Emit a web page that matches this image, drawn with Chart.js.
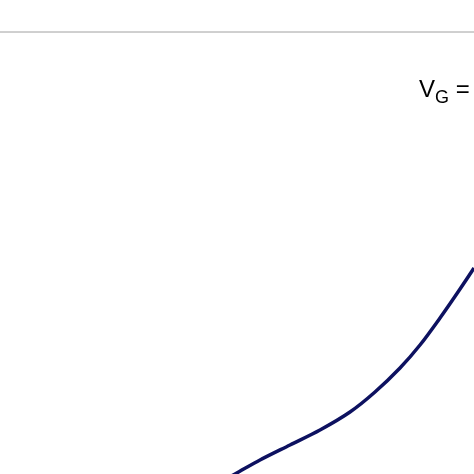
<!DOCTYPE html>
<html><head><meta charset="utf-8">
<script src="https://cdn.jsdelivr.net/npm/chart.js@4"></script>
<style>html,body{margin:0;padding:0;background:#fff}#w{width:474px;height:474px}</style>
</head><body><div id="w"><canvas id="c"></canvas></div>
<script>
const curveX = [220, 235, 260, 290, 320, 350, 375, 400, 420, 440, 458, 474, 482];
const curveY = [482, 474, 460, 445, 430, 412, 392, 368, 345, 318, 292, 268, 255];
const refX = [0, 474];
const refY = [32, 32];
const label = {main: 'V', sub: 'G', tail: ' ='};

const textPlugin = {
  id: 'vg',
  afterDraw(chart) {
    const ctx = chart.ctx;
    const xs = chart.scales.x, ys = chart.scales.y;
    ctx.save();
    ctx.fillStyle = '#000';
    ctx.textBaseline = 'alphabetic';
    let x = xs.getPixelForValue(419), y = ys.getPixelForValue(97);
    ctx.font = '24px "Liberation Sans", Arial, sans-serif';
    ctx.fillText(label.main, x, y);
    x += ctx.measureText(label.main).width;
    ctx.font = '18px "Liberation Sans", Arial, sans-serif';
    ctx.fillText(label.sub, x, y + 6);
    x += ctx.measureText(label.sub).width;
    ctx.font = '24px "Liberation Sans", Arial, sans-serif';
    ctx.fillText(label.tail, x, y);
    ctx.restore();
  }
};

new Chart(document.getElementById('c'), {
  type: 'scatter',
  data: {
    datasets: [
      {data: refX.map((v, i) => ({x: v, y: refY[i]})), showLine: true, borderColor: '#a0a0a0', borderWidth: 1, pointRadius: 0},
      {data: curveX.map((v, i) => ({x: v, y: curveY[i]})), showLine: true, borderColor: '#0d1160', borderWidth: 3.5, pointRadius: 0, tension: 0.3}
    ]
  },
  options: {
    responsive: true, maintainAspectRatio: false, animation: false,
    layout: {padding: 0},
    plugins: {legend: {display: false}, tooltip: {enabled: false}},
    scales: {
      x: {type: 'linear', min: 0, max: 474, display: false},
      y: {type: 'linear', min: 0, max: 474, reverse: true, display: false}
    }
  },
  plugins: [textPlugin]
});
</script></body></html>
